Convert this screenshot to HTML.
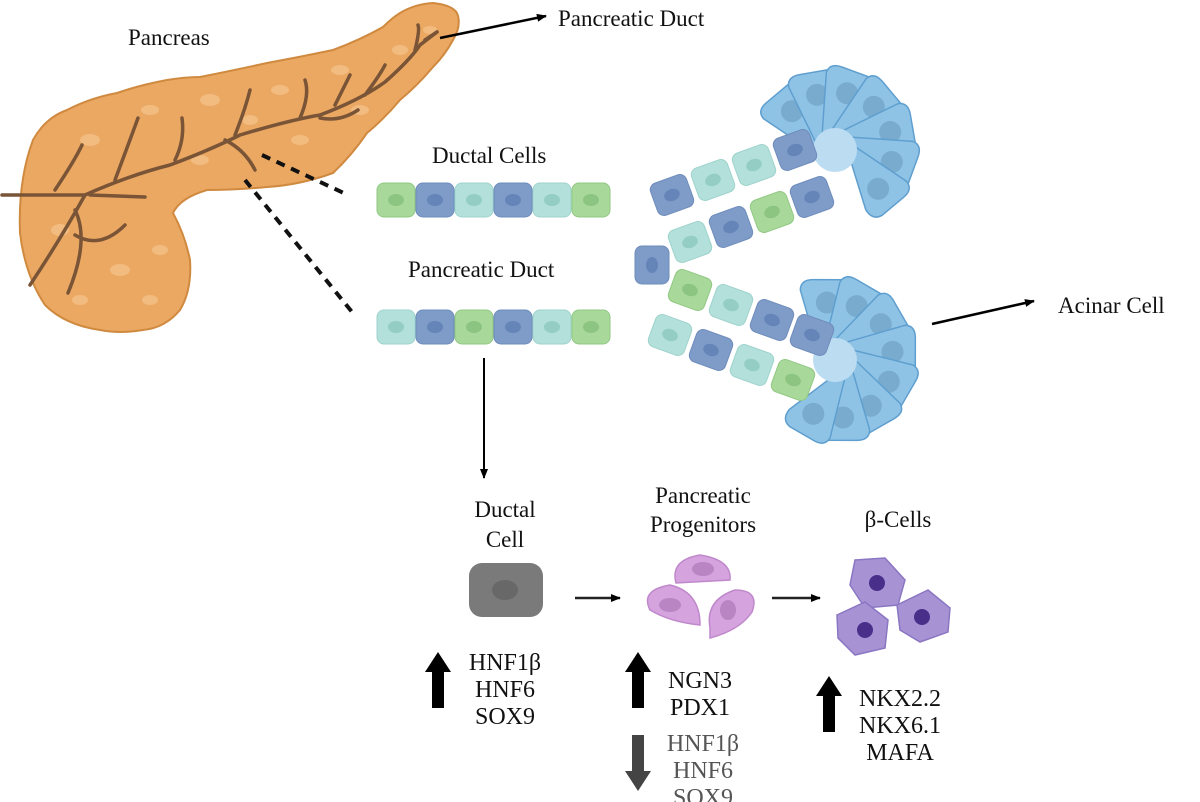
<!DOCTYPE html>
<html><head><meta charset="utf-8"><style>
html,body{margin:0;padding:0;background:#fff;}
svg{display:block;}
text{font-family:"Liberation Serif",serif;fill:#111;}
</style></head><body>
<svg width="1200" height="802" viewBox="0 0 1200 802" xmlns="http://www.w3.org/2000/svg">
<defs>
<marker id="ah" markerWidth="10" markerHeight="10" refX="9" refY="5" orient="auto" markerUnits="userSpaceOnUse"><path d="M0,1 L10,5 L0,9 Z" fill="#000"/></marker>
<g id="cg"><rect x="-19" y="-17" width="38" height="34" rx="7" fill="#a8d89a" stroke="#92c884"/><ellipse rx="8" ry="6" fill="#8cc482"/></g>
<g id="cb"><rect x="-19" y="-17" width="38" height="34" rx="7" fill="#7f9cc9" stroke="#6e8cbb"/><ellipse rx="8" ry="6" fill="#6584b8"/></g>
<g id="ct"><rect x="-19" y="-17" width="38" height="34" rx="7" fill="#b3e0da" stroke="#9ed3cc"/><ellipse rx="8" ry="6" fill="#93cdc4"/></g>
<g id="ac"><path d="M-14,0 L-22,-75 Q-20,-85 -8,-83 L20,-78 Q30,-74 26,-62 Z" fill="#8fc3e6" stroke="#5f9fcf" stroke-width="1.5"/><circle cx="2" cy="-58" r="11" fill="#78abcd"/></g>
</defs>

<!-- Pancreas -->
<path d="M20,233 Q18,180 33,140 Q45,118 67,110 Q90,98 117,93 Q140,85 167,80 Q185,77 200,77 Q235,70 267,63 Q300,57 333,50 Q360,40 383,27 Q392,18 400,13 Q415,4 433,3 Q452,5 457,13 Q462,25 453,40 Q445,55 433,67 Q418,85 400,100 Q385,118 367,133 Q352,155 333,173 Q300,185 267,187 Q235,190 207,190 Q180,198 173,213 Q185,235 190,260 Q192,290 180,310 Q165,328 143,330 Q120,334 100,330 Q65,325 45,305 Q25,275 20,233 Z" fill="#eba862" stroke="#d08a40" stroke-width="2"/>
<g fill="#f6c48c" opacity="0.7">
<ellipse cx="90" cy="140" rx="10" ry="6"/><ellipse cx="150" cy="110" rx="9" ry="5"/><ellipse cx="210" cy="100" rx="10" ry="6"/><ellipse cx="280" cy="90" rx="9" ry="5"/><ellipse cx="340" cy="70" rx="9" ry="5"/><ellipse cx="400" cy="50" rx="8" ry="5"/><ellipse cx="60" cy="230" rx="9" ry="6"/><ellipse cx="120" cy="270" rx="10" ry="6"/><ellipse cx="150" cy="300" rx="8" ry="5"/><ellipse cx="300" cy="140" rx="9" ry="5"/><ellipse cx="200" cy="160" rx="9" ry="5"/><ellipse cx="250" cy="120" rx="8" ry="5"/><ellipse cx="360" cy="110" rx="9" ry="5"/><ellipse cx="80" cy="300" rx="8" ry="5"/><ellipse cx="430" cy="30" rx="7" ry="4"/><ellipse cx="160" cy="250" rx="8" ry="5"/>
</g>
<g fill="none" stroke="#7a5436" stroke-width="3.5" stroke-linecap="round">
<path d="M2,195 L85,195 Q130,175 170,165 Q210,150 240,135 Q290,120 320,115 Q360,100 385,82 Q410,60 420,45 L437,32"/>
<path d="M85,195 Q60,240 30,285"/>
<path d="M75,210 Q90,240 68,293"/>
<path d="M75,235 Q100,250 125,225"/>
<path d="M90,195 L145,197"/>
<path d="M55,190 Q75,160 82,145"/>
<path d="M115,180 Q130,140 138,118"/>
<path d="M175,160 Q185,140 182,118"/>
<path d="M235,135 Q245,110 250,90"/>
<path d="M300,118 Q310,95 305,80"/>
<path d="M335,105 Q345,85 350,75"/>
<path d="M365,95 Q380,75 385,65"/>
<path d="M320,118 Q340,122 358,110"/>
<path d="M225,140 Q245,150 255,170"/>
<path d="M415,50 Q420,30 418,25"/>
<path d="M425,40 L437,32"/>
</g>
<!-- dashed -->
<g stroke="#111" stroke-width="4" stroke-dasharray="9,7">
<line x1="262" y1="155" x2="348" y2="195"/>
<line x1="245" y1="180" x2="352" y2="312"/>
</g>

<!-- acinar clusters -->
<g transform="translate(835,150)">
<use href="#ac" transform="rotate(-50)"/><use href="#ac" transform="rotate(-20)"/><use href="#ac" transform="rotate(10)"/><use href="#ac" transform="rotate(40)"/><use href="#ac" transform="rotate(70)"/><use href="#ac" transform="rotate(100)"/><use href="#ac" transform="rotate(130)"/>
<circle r="22" fill="#bcdcf2"/>
</g>
<g transform="translate(835,360)">
<use href="#ac" transform="rotate(-10)"/><use href="#ac" transform="rotate(20)"/><use href="#ac" transform="rotate(50)"/><use href="#ac" transform="rotate(80)"/><use href="#ac" transform="rotate(110)"/><use href="#ac" transform="rotate(140)"/><use href="#ac" transform="rotate(170)"/><use href="#ac" transform="rotate(200)"/>
<circle r="22" fill="#bcdcf2"/>
</g>

<!-- duct rows -->
<g transform="translate(0,200)">
<use href="#cg" x="396"/><use href="#cb" x="435"/><use href="#ct" x="474"/><use href="#cb" x="513"/><use href="#ct" x="552"/><use href="#cg" x="591"/>
</g>
<g transform="translate(0,327)">
<use href="#ct" x="396"/><use href="#cb" x="435"/><use href="#cg" x="474"/><use href="#cb" x="513"/><use href="#ct" x="552"/><use href="#cg" x="591"/>
</g>
<use href="#cb" transform="translate(672,195) rotate(-20)"/>
<use href="#ct" transform="translate(713,180) rotate(-20)"/>
<use href="#ct" transform="translate(754,165) rotate(-20)"/>
<use href="#cb" transform="translate(795,150) rotate(-20)"/>
<use href="#ct" transform="translate(690,242) rotate(-20)"/>
<use href="#cb" transform="translate(731,227) rotate(-20)"/>
<use href="#cg" transform="translate(772,212) rotate(-20)"/>
<use href="#cb" transform="translate(812,197) rotate(-20)"/>
<use href="#cb" transform="translate(652,265) rotate(90)"/>
<use href="#cg" transform="translate(690,290) rotate(20)"/>
<use href="#ct" transform="translate(731,305) rotate(20)"/>
<use href="#cb" transform="translate(772,320) rotate(20)"/>
<use href="#cb" transform="translate(812,335) rotate(20)"/>
<use href="#ct" transform="translate(670,335) rotate(20)"/>
<use href="#cb" transform="translate(711,350) rotate(20)"/>
<use href="#ct" transform="translate(752,365) rotate(20)"/>
<use href="#cg" transform="translate(793,380) rotate(20)"/>

<!-- arrows -->
<g stroke="#000" stroke-width="2.5" fill="none">
<line x1="440" y1="38" x2="546" y2="16" marker-end="url(#ah)"/>
<line x1="932" y1="324" x2="1034" y2="301" marker-end="url(#ah)"/>
<line x1="484" y1="358" x2="484" y2="478" stroke-width="2" marker-end="url(#ah)"/>
</g>
<g stroke="#222" stroke-width="2.5">
<line x1="575" y1="598" x2="620" y2="598" marker-end="url(#ah)"/>
<line x1="772" y1="598" x2="820" y2="598" marker-end="url(#ah)"/>
</g>

<!-- labels -->
<g font-size="23">
<text x="128" y="45">Pancreas</text>
<text x="558" y="26">Pancreatic Duct</text>
<text x="432" y="163">Ductal Cells</text>
<text x="408" y="277">Pancreatic Duct</text>
<text x="1058" y="313">Acinar Cell</text>
</g>
<g font-size="23" text-anchor="middle">
<text x="505" y="517">Ductal</text><text x="505" y="547">Cell</text>
<text x="703" y="503">Pancreatic</text><text x="703" y="532">Progenitors</text>
<text x="898" y="527">β-Cells</text>
</g>

<!-- bottom cells -->
<rect x="469" y="563" width="74" height="54" rx="13" fill="#7a7a7a"/>
<ellipse cx="505" cy="590" rx="13" ry="10" fill="#686868"/>
<g fill="#d5a3dd" stroke="#c088cc" stroke-width="1.5">
<path d="M676,583 Q670,560 700,555 Q732,560 730,580 Z"/>
<path d="M650,610 Q640,590 670,585 Q700,592 700,625 Q670,622 650,610 Z"/>
<path d="M710,628 Q705,600 735,590 Q760,590 752,612 Q740,630 710,638 Z"/>
</g>
<g fill="#b985c3"><ellipse cx="703" cy="569" rx="11" ry="7"/><ellipse cx="670" cy="605" rx="11" ry="7"/><ellipse cx="728" cy="610" rx="8" ry="10"/></g>
<g fill="#a793d4" stroke="#8a76c2" stroke-width="1.5">
<path d="M855,560 L885,558 L905,580 L898,605 L865,608 L850,585 Z"/>
<path d="M837,615 L865,602 L888,620 L885,648 L855,655 L838,638 Z"/>
<path d="M897,605 L928,590 L950,608 L948,632 L920,642 L900,630 Z"/>
</g>
<g fill="#4a2f8a"><circle cx="877" cy="583" r="8"/><circle cx="865" cy="630" r="8"/><circle cx="922" cy="617" r="8"/></g>

<!-- block arrows -->
<path d="M432,708 L432,672 L425,672 L438,652 L451,672 L444,672 L444,708 Z" fill="#000"/>
<path d="M632,708 L632,672 L625,672 L638,652 L651,672 L644,672 L644,708 Z" fill="#000"/>
<path d="M823,732 L823,696 L816,696 L829,676 L842,696 L835,696 L835,732 Z" fill="#000"/>
<path d="M632,735 L632,771 L625,771 L638,791 L651,771 L644,771 L644,735 Z" fill="#444"/>

<g font-size="24" text-anchor="middle">
<text x="505" y="670">HNF1β</text><text x="505" y="697">HNF6</text><text x="505" y="724">SOX9</text>
<text x="700" y="688">NGN3</text><text x="700" y="715">PDX1</text>
<text x="900" y="706">NKX2.2</text><text x="900" y="733">NKX6.1</text><text x="900" y="760">MAFA</text>
</g>
<g font-size="24" text-anchor="middle" style="fill:#555">
<text x="703" y="751" style="fill:#555">HNF1β</text><text x="703" y="778" style="fill:#555">HNF6</text><text x="703" y="805" style="fill:#555">SOX9</text>
</g>
</svg>
</body></html>
